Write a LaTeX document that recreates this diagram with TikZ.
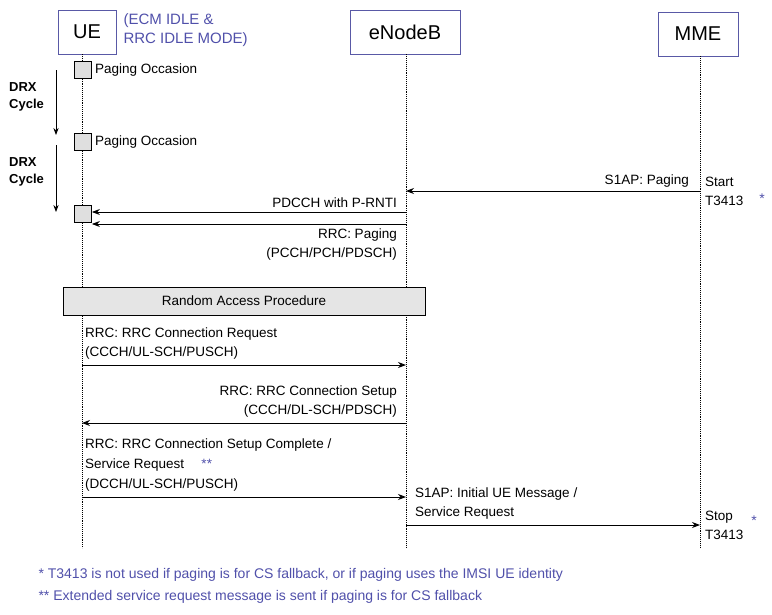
\documentclass[tikz,border=0pt]{standalone}
\usepackage{fontspec}
\setmainfont{Liberation Sans}
\usetikzlibrary{arrows.meta}
\definecolor{noteblue}{RGB}{80,80,170}
\begin{document}
\begin{tikzpicture}[x=1pt,y=-1pt,
  entity/.style={draw=gray!70!blue,line width=0.8pt,minimum height=44pt,font=\fontsize{20}{22}\selectfont},
  occasion/.style={draw,fill=gray!25,minimum size=17pt,inner sep=0pt,line width=0.8pt},
  life/.style={densely dotted,line width=0.9pt},
  msg/.style={-{Stealth[length=8pt]},line width=0.9pt},
  lbl/.style={font=\fontsize{13.5}{19}\selectfont,inner sep=1pt,align=left},
  note/.style={text=noteblue,font=\fontsize{14}{16}\selectfont}]
\useasboundingbox (0,0) rectangle (772,614);

% Entities
\node[entity,minimum width=58pt] (ue) at (87,32) {UE};
\node[entity,minimum width=110pt] (enb) at (405,32) {eNodeB};
\node[entity,minimum width=80pt] (mme) at (698,34) {MME};
\node[note,anchor=north west,align=left,font=\fontsize{15}{19}\selectfont] (state) at (120,10) {(ECM IDLE \&\\RRC IDLE MODE)};

% Lifeline ends
\coordinate (ueend) at (82,548);
\coordinate (enbend) at (406,548);
\coordinate (mmeend) at (700,548);
\draw[life] (82,54) -- (ueend);
\draw[life] (enb.south) ++(1,0) -- (enbend);
\draw[life] (mme.south) ++(2,0) -- (mmeend);

% Paging occasions
\node[occasion] (po1) at (83,70) {};
\node[occasion] (po2) at (83,142) {};
\node[occasion] (po3) at (83,214) {};
\node[lbl,anchor=west] (pol1) at ([xshift=2pt]po1.east) {Paging Occasion};
\node[lbl,anchor=west] (pol2) at ([xshift=2pt]po2.east) {Paging Occasion};

% DRX cycles
\coordinate (d1a) at (56,70);
\coordinate (d1b) at (56,135);
\coordinate (d2a) at (56,145);
\coordinate (d2b) at (56,212);
\draw[-{Stealth[length=7pt]},line width=0.9pt] (d1a) -- (d1b);
\draw[-{Stealth[length=7pt]},line width=0.9pt] (d2a) -- (d2b);
\node[lbl,anchor=west,font=\fontsize{13}{17}\selectfont\bfseries] (drx1) at (8,97) {DRX\\Cycle};
\node[lbl,anchor=west,font=\fontsize{13}{17}\selectfont\bfseries] (drx2) at (8,172) {DRX\\Cycle};

% Paging from MME
\coordinate (mmep) at (700,191);
\coordinate (enbp) at (406,191);
\draw[msg] (mmep) -- (enbp);
\node[lbl,anchor=south east] (s1p) at (690,188) {S1AP: Paging};
\node[lbl,anchor=north west] (start) at (704,176) {Start\\T3413};
\node[note] (st1) at (762,199) {*};

% PDCCH and RRC paging
\coordinate (enbq) at (406,212);
\coordinate (enbr) at (406,224);
\draw[msg] (enbq) -- (po3.east |- enbq);
\draw[msg] (enbr) -- (po3.east |- enbr);
\node[lbl,anchor=south east] (pdcch) at (398,209) {PDCCH with P-RNTI};
\node[lbl,anchor=north east,align=right] (rrcp) at (398,228) {RRC: Paging\\(PCCH/PCH/PDSCH)};

% Random access
\node[draw,fill=gray!20,line width=0.8pt,minimum width=362pt,minimum height=28pt,lbl] (ra) at (244,301) {Random Access Procedure};

% RRC connection
\coordinate (ue1) at (82,365);
\coordinate (enb1) at (406,365);
\draw[msg] (ue1) -- (enb1);
\node[lbl,anchor=south west] (req) at (84,360) {RRC: RRC Connection Request\\(CCCH/UL-SCH/PUSCH)};
\coordinate (enb2) at (406,423);
\coordinate (ue2) at (82,423);
\draw[msg] (enb2) -- (ue2);
\node[lbl,anchor=south east,align=right] (setup) at (398,418) {RRC: RRC Connection Setup\\(CCCH/DL-SCH/PDSCH)};
\coordinate (ue3) at (82,497);
\coordinate (enb3) at (406,497);
\draw[msg] (ue3) -- (enb3);
\node[lbl,anchor=south west,font=\fontsize{13.5}{20}\selectfont] (cmpl) at (84,492) {RRC: RRC Connection Setup Complete /\\Service Request \quad\textcolor{noteblue}{**}\\(DCCH/UL-SCH/PUSCH)};

% Initial UE message
\coordinate (enb4) at (406,525);
\coordinate (mme4) at (700,525);
\draw[msg] (enb4) -- (mme4);
\node[lbl,anchor=south west] (init) at (414,520) {S1AP: Initial UE Message /\\Service Request};
\node[lbl,anchor=north west] (stop) at (704,510) {Stop\\T3413};
\node[note] (st3) at (754,521) {*};

% Footnotes
\node[note,anchor=west] (fn1) at (35,575) {* T3413 is not used if paging is for CS fallback, or if paging uses the IMSI UE identity};
\node[note,anchor=west] (fn2) at (35,597) {** Extended service request message is sent if paging is for CS fallback};
\end{tikzpicture}
\end{document}
